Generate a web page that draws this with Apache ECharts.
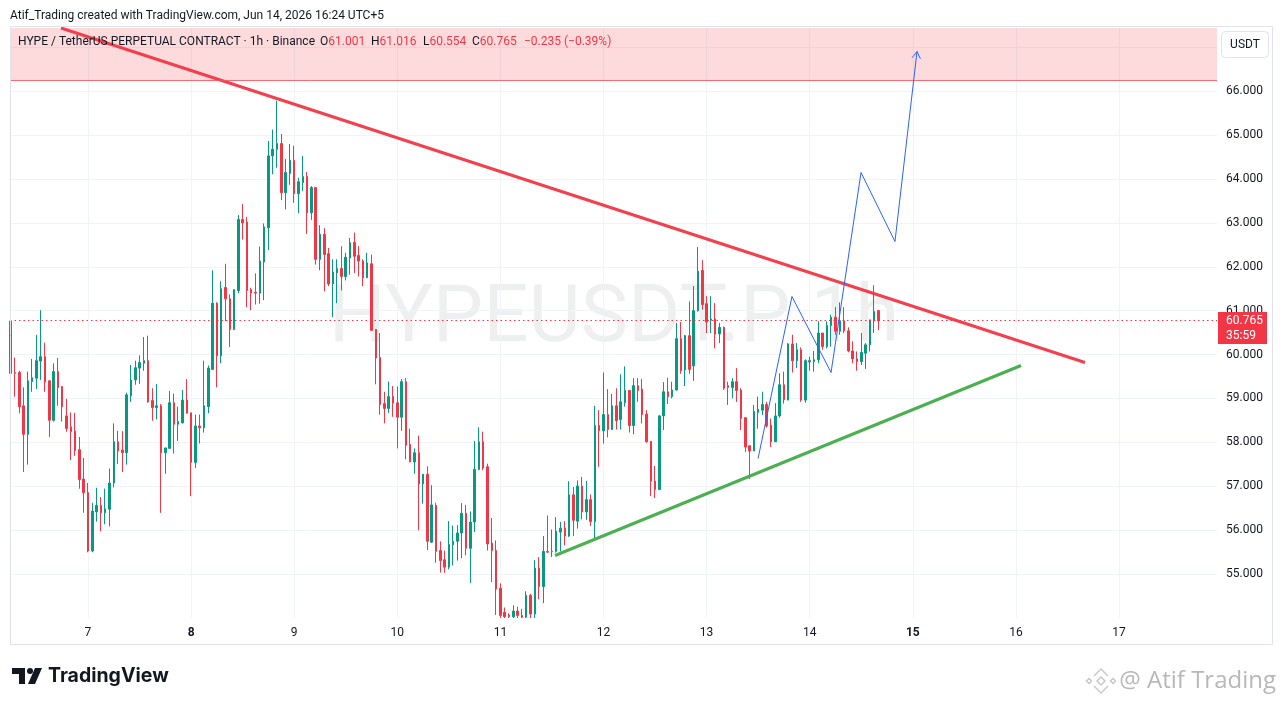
<!DOCTYPE html>
<html><head><meta charset="utf-8">
<script src="https://cdn.jsdelivr.net/npm/echarts@6/dist/echarts.min.js"></script>
<style>html,body{margin:0;padding:0;background:#fff}#c{width:1283px;height:706px}</style>
</head><body><div id="c"></div>
<script>
// ---- data (Jun 6 06:00 onward, 1h candles; x in days of June) ----
const startDay = 6.25;
const opens = [60.76,59.59,59.59,58.83,58.18,59.38,59.46,59.85,59.95,59.40,58.50,59.61,59.27,58.60,58.35,58.25,57.83,57.16,56.85,55.52,
56.41,56.56,56.39,56.47,57.07,58.01,57.82,57.76,59.06,59.42,59.69,59.80,59.86,58.95,58.79,58.83,57.76,57.86,58.90,58.41,
58.44,58.96,58.67,57.54,58.37,58.33,58.81,59.66,61.17,59.97,61.53,61.27,60.57,61.46,63.08,63.02,61.48,61.42,61.40,62.11,
62.89,64.53,64.68,64.81,63.69,64.13,64.43,63.67,63.92,64.06,63.23,63.81,62.17,62.74,62.30,61.61,61.86,61.96,61.78,62.20,
62.56,62.26,62.13,61.75,62.07,60.57,59.93,58.88,58.77,59.04,58.90,58.57,59.38,57.95,57.55,57.76,57.05,57.27,55.72,56.56,
55.53,55.32,55.15,55.66,55.74,55.93,56.38,55.58,56.18,57.38,58.01,57.44,55.70,55.53,54.67,54.12,54.06,54.02,54.15,54.05,
54.01,54.51,54.08,55.13,54.71,55.51,55.50,55.51,55.95,56.04,55.86,56.80,56.20,57.00,56.41,56.69,56.19,58.38,58.26,58.63,
58.29,58.83,58.52,58.90,59.18,58.38,59.29,59.21,58.64,58.02,57.11,56.92,58.60,59.15,59.04,59.19,60.36,59.65,60.43,59.74,
61.00,61.92,61.16,60.78,60.81,60.47,60.62,59.29,59.25,59.38,59.19,58.56,57.92,57.80,58.68,58.73,58.86,58.39,58.01,58.60,
59.31,58.96,60.24,59.86,60.11,58.96,59.83,59.84,59.88,60.49,60.18,60.66,60.85,60.53,60.77,60.54,60.08,59.90,59.84,60.03,
60.22,60.77,61.001];
const highs = [61.14,59.93,59.63,59.25,59.61,59.90,60.45,61.01,60.27,59.41,59.80,59.92,59.27,58.99,58.68,58.67,58.12,57.64,57.07,56.62,
56.96,56.75,56.94,57.40,58.43,58.26,58.25,59.13,59.76,59.86,59.98,60.40,60.43,59.23,59.33,58.87,57.87,59.17,59.11,58.81,
59.19,59.44,58.67,58.63,58.63,59.86,59.75,61.92,61.19,61.67,62.07,61.37,61.48,63.18,63.43,63.14,61.52,61.85,62.46,62.99,
64.87,65.13,65.79,65.03,64.46,64.80,64.76,64.03,64.53,64.16,63.84,63.81,62.95,62.88,62.43,62.17,62.17,62.47,62.32,62.66,
62.78,62.47,62.17,62.32,62.28,60.58,60.49,59.15,59.38,59.28,59.27,59.44,59.46,58.31,57.86,58.15,57.27,57.45,57.02,56.62,
55.74,55.53,56.20,56.10,56.11,56.61,56.57,56.42,58.03,58.34,58.24,57.51,56.27,55.76,54.78,54.23,54.10,54.28,54.25,54.20,
54.60,54.54,55.31,55.38,55.86,56.33,56.01,56.29,56.18,56.20,57.11,56.98,57.13,57.21,57.12,56.81,58.83,58.73,59.59,59.21,
59.10,59.23,59.55,59.73,59.18,59.46,59.46,59.44,58.73,58.02,57.46,58.62,59.37,59.47,59.38,60.72,60.74,60.45,61.21,61.56,
62.45,62.15,61.33,61.33,61.17,60.72,60.64,59.38,59.46,59.69,59.23,58.56,57.92,58.85,59.04,59.15,58.92,58.54,58.89,59.57,
59.61,60.26,60.45,60.26,60.16,59.89,59.95,60.08,60.76,60.49,60.76,60.91,61.08,61.19,61.08,60.62,60.30,60.07,60.49,60.26,
60.79,61.58,61.016];
const lows = [59.57,59.04,58.66,57.32,57.49,59.15,59.21,59.42,59.15,58.12,58.47,58.83,58.47,58.24,57.59,57.69,56.94,56.39,55.49,55.49,
56.19,55.97,56.13,56.08,56.97,57.50,57.32,57.49,58.92,59.31,59.33,59.63,58.90,58.49,58.52,56.39,57.28,57.86,57.74,58.03,
58.43,58.66,56.77,57.41,57.97,58.22,58.66,59.66,59.25,59.80,60.76,60.17,60.56,61.40,62.62,61.08,61.01,61.14,61.16,61.24,
62.38,64.11,64.26,63.52,63.31,63.87,63.46,63.22,63.73,62.75,63.07,62.05,61.92,61.44,61.56,60.85,61.17,61.46,61.69,61.82,
61.86,61.78,61.56,61.75,60.55,59.32,58.63,58.43,58.67,58.58,57.86,58.26,57.61,57.55,57.28,55.99,56.60,55.54,55.70,55.25,
55.03,55.02,55.10,55.19,55.30,55.36,55.42,54.79,55.95,57.36,57.36,55.53,54.81,54.06,53.99,53.99,53.99,53.99,53.99,53.99,
53.99,53.99,53.99,54.42,54.33,55.49,55.38,55.48,55.51,55.65,55.84,55.86,56.03,56.24,56.23,56.09,55.78,57.44,57.97,58.11,
58.28,58.29,58.29,58.81,58.22,58.18,58.92,58.43,57.99,56.77,56.73,56.92,58.28,58.87,59.00,59.18,59.56,59.28,59.56,59.40,
60.98,61.02,60.49,60.49,60.14,60.26,59.19,58.85,59.00,58.92,58.28,57.78,57.16,57.80,58.31,58.62,58.33,57.89,58.01,58.56,
58.88,58.96,59.59,59.69,58.92,58.90,59.63,59.61,59.80,60.11,60.14,60.18,60.45,60.45,60.49,60.05,59.80,59.63,59.76,59.67,
60.07,60.49,60.554];
const closes = [59.57,59.57,58.81,58.18,59.40,59.47,59.86,59.95,59.37,58.50,59.61,59.25,58.81,58.31,58.24,57.81,57.15,56.85,55.52,56.43,
56.56,56.39,56.48,57.07,58.01,57.80,57.76,59.08,59.42,59.70,59.82,59.86,58.92,58.79,58.83,57.76,57.87,58.90,58.41,58.47,
58.96,58.66,57.54,58.37,58.33,58.83,59.69,61.17,59.97,61.50,61.27,60.57,61.48,63.08,63.00,61.46,61.40,61.40,62.13,62.91,
64.53,64.68,64.81,63.69,64.15,64.43,63.67,63.94,64.06,63.23,63.81,62.17,62.74,62.28,61.61,61.88,61.96,61.78,62.22,62.55,
62.24,62.13,61.75,62.09,60.55,59.92,58.86,58.77,59.04,58.89,58.57,59.38,57.93,57.55,57.76,57.05,57.27,55.74,56.57,55.51,
55.30,55.15,55.67,55.74,55.93,56.38,55.58,56.18,57.38,58.01,57.41,55.68,55.53,54.65,54.05,54.02,54.02,54.15,54.05,54.01,
54.51,54.08,55.13,54.71,55.51,55.49,55.51,55.97,56.04,55.86,56.80,56.22,57.00,56.41,56.69,56.19,58.38,58.26,58.63,58.29,
58.83,58.49,58.92,59.18,58.38,59.29,59.18,58.63,58.01,57.11,56.92,58.60,59.15,59.04,59.19,60.36,59.63,60.43,59.66,61.00,
61.90,61.14,60.74,60.81,60.46,60.62,59.23,59.25,59.38,59.18,58.54,57.89,57.80,58.70,58.75,58.86,58.37,58.01,58.60,59.31,
58.97,60.24,59.86,60.11,58.96,59.86,59.86,59.88,60.49,60.18,60.66,60.85,60.53,60.77,60.54,60.08,59.90,59.84,60.05,60.22,
60.79,60.98,60.765];

const dayTicks = [7,8,9,10,11,12,13,14,15,16,17];
const boldDays = [8,15];
const priceLabels = [55,56,57,58,59,60,61,62,63,64,65,66];
const priceGrid = [55,56,57,58,59,60,61,62,63,64,65,66,67];

const resistanceLine = [[6.738,67.446],[16.670,59.818]];
const supportLine = [[11.530,55.416],[16.050,59.749]];
const projectionPath = [[13.499,57.628],[13.828,61.323],[14.207,59.590],[14.498,64.150],[14.827,62.577],[15.041,66.910]];
const lastPrice = 60.765;
const countdown = '35:59';
const zoneLow = 66.249;

// axis extents (visible window)
const xMin = 6.2435, xMax = 17.9505;
const yMin = 53.991, yMax = 67.446;

const UP = '#089981', DOWN = '#F23645';
const FONT = 'Roboto, "Liberation Sans", sans-serif';

const candles = opens.map((o, i) => [startDay + i / 24, o, closes[i], lows[i], highs[i]]);
const arrowSeg = [[projectionPath[4][0], projectionPath[4][1], projectionPath[5][0], projectionPath[5][1]]];

const chart = echarts.init(document.getElementById('c'), null, {renderer: 'canvas'});
chart.setOption({
  animation: false,
  backgroundColor: '#ffffff',
  grid: {left: 10, right: 66, top: 28, bottom: 88},
  xAxis: {
    type: 'value', min: xMin, max: xMax,
    axisLine: {show: false}, axisTick: {show: false, customValues: dayTicks},
    splitLine: {show: true, lineStyle: {color: '#F0F3FA', width: 1}},
    axisLabel: {
      customValues: dayTicks, margin: 9, color: '#131722', fontSize: 12, fontFamily: FONT,
      formatter: v => boldDays.indexOf(v) >= 0 ? '{b|' + v + '}' : String(v),
      rich: {b: {fontWeight: 'bold', fontSize: 12, color: '#131722', fontFamily: FONT}}
    }
  },
  yAxis: {
    type: 'value', position: 'right', min: yMin, max: yMax, scale: true,
    axisLine: {show: false}, axisTick: {show: false, customValues: priceGrid},
    splitLine: {show: true, lineStyle: {color: '#F0F3FA', width: 1}},
    axisLabel: {customValues: priceLabels, margin: 9, color: '#131722', fontSize: 12, fontFamily: FONT,
      formatter: v => v.toFixed(3)}
  },
  series: [
    {
      type: 'candlestick', data: candles, barWidth: 2, clip: true,
      itemStyle: {color: UP, color0: DOWN, borderColor: UP, borderColor0: DOWN, borderWidth: 1},
      markArea: {silent: true, itemStyle: {color: 'rgba(242,54,69,0.18)'},
        data: [[{yAxis: zoneLow}, {yAxis: yMax}]]},
      markLine: {
        silent: true, symbol: 'none',
        data: [
          {yAxis: lastPrice, lineStyle: {type: [1.5, 3], color: DOWN, width: 1}, label: {show: false}},
          {yAxis: zoneLow, lineStyle: {type: 'solid', color: '#F7525F', width: 1, opacity: 0.85},
            label: {show: false}}
        ]
      },
      markPoint: {
        silent: true,
        data: [{coord: [xMax, lastPrice], symbol: 'rect', symbolSize: [49, 32], symbolOffset: [25.5, 7],
          itemStyle: {color: DOWN},
          label: {show: true, position: [8, 2], align: 'left', verticalAlign: 'top',
            formatter: lastPrice.toFixed(3) + '\n' + countdown,
            color: '#ffffff', fontSize: 12, fontFamily: FONT, lineHeight: 15}}]
      }
    },
    {type: 'line', data: resistanceLine, symbol: 'none', clip: true,
      lineStyle: {color: '#F23645', width: 3, opacity: 0.95}, z: 4},
    {type: 'line', data: supportLine, symbol: 'none', clip: true,
      lineStyle: {color: '#4CAF50', width: 3}, z: 4},
    {type: 'line', data: projectionPath, symbol: 'none', clip: true,
      lineStyle: {color: '#2962FF', width: 1}, z: 5},
    {type: 'custom', data: arrowSeg, encode: {x: [0, 2], y: [1, 3]}, z: 5,
      renderItem: function (params, api) {
        const p0 = api.coord([api.value(0), api.value(1)]);
        const p1 = api.coord([api.value(2), api.value(3)]);
        const a = Math.atan2(p1[1] - p0[1], p1[0] - p0[0]);
        const L = 8, s = 0.55;
        const l = [p1[0] - L * Math.cos(a - s), p1[1] - L * Math.sin(a - s)];
        const r = [p1[0] - L * Math.cos(a + s), p1[1] - L * Math.sin(a + s)];
        return {type: 'polyline', shape: {points: [l, p1, r]},
          style: {stroke: '#2962FF', lineWidth: 1, fill: null}};
      }}
  ],
  graphic: [
    {type: 'text', z: 0, x: 614, y: 321, silent: true,
      style: {text: 'HYPEUSDT.P 1h', font: '80px ' + FONT, fill: 'rgba(19,23,34,0.07)', align: 'center', verticalAlign: 'middle'}},
    {type: 'rect', z: 10, silent: true, shape: {x: 10.5, y: 26.5, width: 1262, height: 618},
      style: {fill: 'none', stroke: '#E0E3EB', lineWidth: 1}},
    {type: 'text', z: 10, x: 10, y: 15.5, silent: true,
      style: {text: 'Atif_Trading created with TradingView.com, Jun 14, 2026 16:24 UTC+5', font: '12px ' + FONT, fill: '#131722', verticalAlign: 'middle'}},
    {type: 'text', z: 10, x: 18, y: 42, silent: true,
      style: {text: 'HYPE / TetherUS PERPETUAL CONTRACT · 1h · Binance', font: '12px ' + FONT, fill: '#131722', verticalAlign: 'middle'}},
    {type: 'text', z: 10, x: 320, y: 42, silent: true,
      style: {text: 'O{r|61.001}', font: '12px ' + FONT, fill: '#131722', verticalAlign: 'middle', rich: {r: {fill: DOWN, font: '12px ' + FONT}}}},
    {type: 'text', z: 10, x: 371, y: 42, silent: true,
      style: {text: 'H{r|61.016}', font: '12px ' + FONT, fill: '#131722', verticalAlign: 'middle', rich: {r: {fill: DOWN, font: '12px ' + FONT}}}},
    {type: 'text', z: 10, x: 423, y: 42, silent: true,
      style: {text: 'L{r|60.554}', font: '12px ' + FONT, fill: '#131722', verticalAlign: 'middle', rich: {r: {fill: DOWN, font: '12px ' + FONT}}}},
    {type: 'text', z: 10, x: 472, y: 42, silent: true,
      style: {text: 'C{r|60.765}', font: '12px ' + FONT, fill: '#131722', verticalAlign: 'middle', rich: {r: {fill: DOWN, font: '12px ' + FONT}}}},
    {type: 'text', z: 10, x: 524, y: 42, silent: true,
      style: {text: '−0.235 (−0.39%)', font: '12px ' + FONT, fill: DOWN, verticalAlign: 'middle'}},
    {type: 'rect', z: 10, silent: true, shape: {x: 1221.5, y: 31.5, width: 47, height: 26, r: 4},
      style: {fill: '#ffffff', stroke: '#E0E3EB', lineWidth: 1}},
    {type: 'text', z: 11, x: 1245, y: 45, silent: true,
      style: {text: 'USDT', font: '12px ' + FONT, fill: '#131722', align: 'center', verticalAlign: 'middle'}},
    // TradingView logo
    {type: 'polygon', z: 10, silent: true, shape: {points: [[12,668],[25,668],[25,684],[19,684],[19,674],[12,674]]}, style: {fill: '#131722'}},
    {type: 'circle', z: 10, silent: true, shape: {cx: 30, cy: 671, r: 3}, style: {fill: '#131722'}},
    {type: 'polygon', z: 10, silent: true, shape: {points: [[35,668],[42,668],[35,684],[28,684]]}, style: {fill: '#131722'}},
    {type: 'text', z: 10, x: 48, y: 676, silent: true,
      style: {text: 'TradingView', font: 'bold 19.5px Inter, "Open Sans", sans-serif', fill: '#131722', verticalAlign: 'middle'}},
    // Binance-like badge + watermark handle
    {type: 'group', z: 10, silent: true, x: 1101, y: 681, children: [
      {type: 'polygon', shape: {points: [[0,-4],[4,0],[0,4],[-4,0]]}, style: {fill: 'none', stroke: '#C9C9C9', lineWidth: 1.5}},
      {type: 'polyline', shape: {points: [[-7,-5],[0,-12],[7,-5]]}, style: {stroke: '#C9C9C9', lineWidth: 1.5, fill: null}},
      {type: 'polyline', shape: {points: [[-7,5],[0,12],[7,5]]}, style: {stroke: '#C9C9C9', lineWidth: 1.5, fill: null}},
      {type: 'polygon', shape: {points: [[-12,-2.5],[-9.5,0],[-12,2.5],[-14.5,0]]}, style: {fill: 'none', stroke: '#C9C9C9', lineWidth: 1.5}},
      {type: 'polygon', shape: {points: [[12,-2.5],[14.5,0],[12,2.5],[9.5,0]]}, style: {fill: 'none', stroke: '#C9C9C9', lineWidth: 1.5}}
    ]},
    {type: 'text', z: 10, x: 1276, y: 681, silent: true,
      style: {text: '@ Atif Trading', font: '24px "Open Sans", sans-serif', fill: '#B8B8B8', align: 'right', verticalAlign: 'middle'}}
  ]
});
</script></body></html>
